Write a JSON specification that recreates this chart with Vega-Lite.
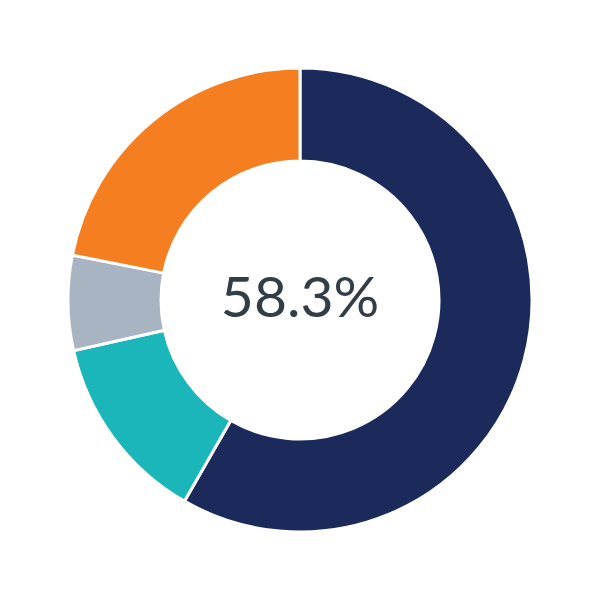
{
  "$schema": "https://vega.github.io/schema/vega-lite/v6.json",
  "width": 600,
  "height": 600,
  "autosize": {"type": "fit", "contains": "padding"},
  "background": "white",
  "data": {
    "values": [
      {"segment": "A", "share": 0.583, "rank": 1},
      {"segment": "B", "share": 0.132, "rank": 2},
      {"segment": "C", "share": 0.066, "rank": 3},
      {"segment": "D", "share": 0.219, "rank": 4}
    ]
  },
  "layer": [
    {
      "mark": {
        "type": "arc",
        "outerRadius": 232,
        "innerRadius": 139,
        "stroke": "white",
        "strokeWidth": 3
      },
      "encoding": {
        "theta": {"field": "share", "type": "quantitative", "stack": true},
        "order": {"field": "rank", "type": "quantitative"},
        "color": {
          "field": "segment",
          "type": "nominal",
          "legend": null,
          "scale": {
            "domain": ["A", "B", "C", "D"],
            "range": ["#1b2a5b", "#1bb6b9", "#a9b4c2", "#f47e20"]
          }
        }
      }
    },
    {
      "transform": [{"filter": "datum.rank == 1"}],
      "mark": {
        "type": "text",
        "font": "Lato",
        "fontSize": 57,
        "fontWeight": 400,
        "color": "#333d47",
        "align": "center",
        "baseline": "middle"
      },
      "encoding": {
        "text": {"field": "share", "type": "quantitative", "format": ".1%"}
      }
    }
  ],
  "config": {"view": {"stroke": null}}
}
